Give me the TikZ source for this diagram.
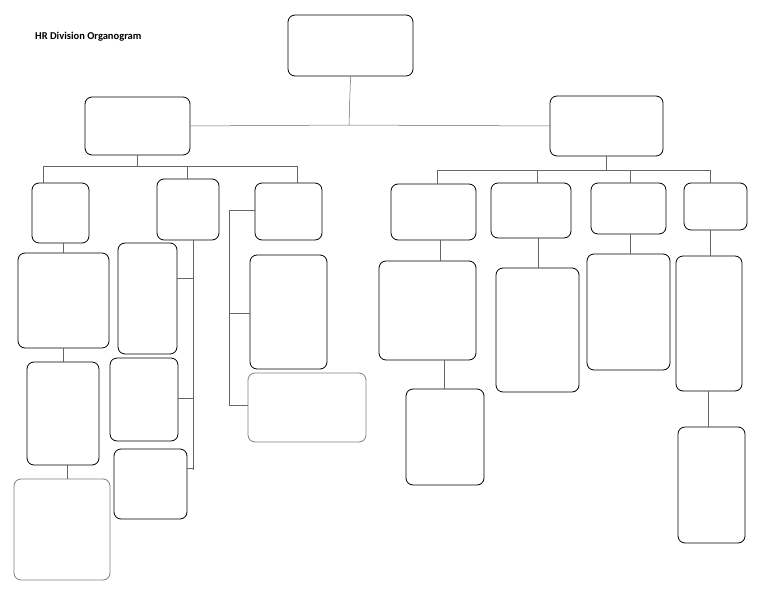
\documentclass[tikz,border=0pt]{standalone}
\usepackage{fontspec}
\setmainfont{Carlito}
\usetikzlibrary{calc}

\newcommand{\orgbox}[6][box]{%
  \node[#1, minimum width={(#5-#3)*1pt}, minimum height={(#6-#4)*1pt}]
    (#2) at ({(#3+#5)/2}, {(#4+#6)/2}) {};}

\begin{document}
\begin{tikzpicture}[
        x=1pt, y=-1pt,
        box/.style = {draw, rounded corners=7pt, line width=0.8pt, inner sep=0pt},
        greybox/.style = {box, draw=gray},
        link/.style = {draw=gray!80!black, line width=0.5pt},
      ]
      \useasboundingbox (0,0) rectangle (768,594);
      \node[anchor=west, inner sep=0pt, font=\bfseries\fontsize{10.5}{12}\selectfont] (title) at (35,37) {HR Division Organogram};

      % top and second level
      \orgbox{head}{288}{15}{413}{76}
      \orgbox{left}{85}{97}{190}{155}
      \orgbox{right}{550}{96}{663}{156}
      \draw[link] (head.south) -- (349,125) coordinate (mid);
      \draw[link] (left.east) -- (mid) -- (right.west);

      % left branch
      \orgbox{la}{32}{183}{89}{243}
      \orgbox{lb}{157}{179}{219}{240}
      \orgbox{lc}{255}{183}{322}{240}
      \draw[link] (left.south) -- (left.south |- 0,166);
      \draw[link] (43,166) -- (298,166);
      \draw[link] (43,166) -- (43,183);
      \draw[link] (187,166) -- (lb.north -| 187,0);
      \draw[link] (297,166) -- (lc.north -| 297,0);

      \orgbox{da}{18}{253}{109}{348}
      \orgbox{ea}{27}{362}{99}{465}
      \orgbox[greybox]{fa}{14}{479}{110}{580}
      \draw[link] (la.south -| 63,0) -- (da.north -| 63,0);
      \draw[link] (da.south -| 63,0) -- (ea.north -| 63,0);
      \draw[link] (ea.south -| 67,0) -- (fa.north -| 67,0);

      \orgbox{ga}{118}{243}{177}{354}
      \orgbox{ha}{110}{358}{178}{441}
      \orgbox{ia}{114}{449}{187}{519}
      \draw[link] (lb.south -| 193,0) -- (193,470);
      \draw[link] (ga.east |- 0,278) -- (193,278);
      \draw[link] (ha.east |- 0,398) -- (193,398);
      \draw[link] (ia.east |- 0,468) -- (193,468);

      \orgbox{ja}{250}{255}{327}{369}
      \orgbox[greybox]{ka}{248}{373}{366}{442}
      \draw[link] (lc.west |- 0,210) -- (229,210) -- (229,405);
      \draw[link] (229,313) -- (ja.west |- 0,313);
      \draw[link] (229,405) -- (ka.west |- 0,405);

      % right branch
      \orgbox{pa}{391}{184}{476}{240}
      \orgbox{qa}{491}{183}{571}{238}
      \orgbox{sa}{591}{183}{666}{234}
      \orgbox{ta}{684}{183}{747}{230}
      \draw[link] (right.south) -- (right.south |- 0,170);
      \draw[link] (437,170) -- (710,170);
      \foreach \n/\x in {pa/437, qa/537, sa/630, ta/710}
        \draw[link] (\x,170) -- (\n.north -| \x,0);

      \orgbox{ua}{379}{261}{476}{360}
      \orgbox{va}{406}{389}{484}{485}
      \draw[link] (pa.south -| 440,0) -- (ua.north -| 440,0);
      \draw[link] (ua.south -| 444,0) -- (va.north -| 444,0);

      \orgbox{wa}{496}{268}{579}{392}
      \draw[link] (qa.south -| 538,0) -- (wa.north -| 538,0);

      \orgbox{xa}{587}{254}{670}{370}
      \draw[link] (sa.south -| 630,0) -- (xa.north -| 630,0);

      \orgbox{ya}{676}{256}{742}{391}
      \orgbox{za}{678}{427}{745}{543}
      \draw[link] (ta.south -| 710,0) -- (ya.north -| 710,0);
      \draw[link] (ya.south -| 708,0) -- (za.north -| 708,0);
    \end{tikzpicture}
\end{document}
